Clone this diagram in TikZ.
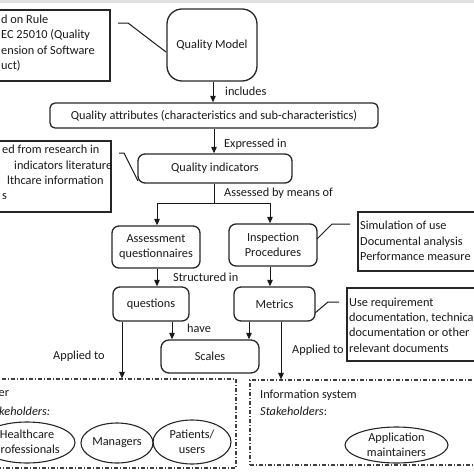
\documentclass[tikz,border=0pt]{standalone}
\usepackage{fontspec}
\setmainfont{Carlito}
\usetikzlibrary{arrows.meta,shapes.geometric}
\begin{document}
\begin{tikzpicture}[x=1pt,y=-1pt,
  every node/.style={font=\fontsize{12.3}{15.3}\selectfont, text=black!90},
  lbl/.style={inner sep=0, anchor=west},
  rbox/.style={draw=black!85, line width=1.3pt, rounded corners=#1, inner sep=0, align=center},
  rbox/.default=6pt,
  note/.style={draw=black!85, line width=1.3pt, inner sep=0},
  notetxt/.style={inner sep=0, anchor=west, align=left},
  arr/.style={-{Triangle[length=6.5pt,width=5.5pt]}, line width=1pt, black!90},
  ln/.style={line width=1pt, black!90},
  stake/.style={draw=black!75, line width=1.1pt, dash pattern=on 4pt off 2pt on 1pt off 2pt, inner sep=0},
  ell/.style={draw=black!85, ellipse, line width=1.1pt, inner sep=0, align=center}
]
\useasboundingbox (0,0) rectangle (474,474);
\clip (0,0) rectangle (474,474);
\fill[black!12] (0,0) rectangle (474,2.5);

% main boxes
\node[rbox=15pt, minimum width=90pt, minimum height=72pt] (qm) at (212,45) {Quality Model};
\node[rbox=5pt, minimum width=328pt, minimum height=25pt] (qa) at (214,115.5) {Quality attributes (characteristics and sub-characteristics)};
\node[rbox=7pt, minimum width=154pt, minimum height=29pt] (qi) at (215,168.5) {Quality indicators};
\node[rbox=7pt, minimum width=88pt, minimum height=42pt] (aq) at (156,247) {Assessment\\questionnaires};
\node[rbox=7pt, minimum width=88pt, minimum height=42pt] (ip) at (273,245) {Inspection\\Procedures};
\node[rbox=7pt, minimum width=76pt, minimum height=34pt] (qu) at (151,304) {questions};
\node[rbox=7pt, minimum width=81pt, minimum height=34pt] (me) at (274.5,304) {Metrics};
\node[rbox=8pt, minimum width=98pt, minimum height=33pt] (sc) at (210,356.5) {Scales};

% notes
\node[note, minimum width=170pt, minimum height=71pt] (n1) at (25,45.5) {};
\node[notetxt] (t1) at (1,43) {d on Rule\\EC 25010 (Quality\\ension of Software\\uct)};
\node[note, minimum width=171pt, minimum height=71pt] (n2) at (25.5,176.5) {};
\node[notetxt] (t2) at (2,172.5) {ed from research in\\\hspace*{12pt}indicators literature\\\hspace*{5pt}lthcare information\\s};
\node[note, minimum width=170pt, minimum height=59pt] (n3) at (443,241.5) {};
\node[notetxt] (t3) at (360,241) {Simulation of use\\Documental analysis\\Performance measure};
\node[note, minimum width=170pt, minimum height=73pt] (n4) at (432,324.5) {};
\node[notetxt] (t4) at (349,325) {Use requirement\\documentation, technica\\documentation or other\\relevant documents};

% callout lines
\coordinate (c1a) at (118,23); \coordinate (c1b) at (128,23); \coordinate (c1c) at (166,52);
\draw[ln] (c1a) -- (c1b) -- (c1c);
\coordinate (c2a) at (119,153); \coordinate (c2b) at (124,153); \coordinate (c2c) at (138,181);
\draw[ln] (c2a) -- (c2b) -- (c2c);
\coordinate (c3a) at (317,239); \coordinate (c3b) at (332,224); \coordinate (c3c) at (350,224);
\draw[ln] (c3a) -- (c3b) -- (c3c);
\coordinate (c4a) at (315,313); \coordinate (c4b) at (328,302); \coordinate (c4c) at (339,302);
\draw[ln] (c4a) -- (c4b) -- (c4c);

% stakeholder boxes
\node[stake, minimum width=266pt, minimum height=89pt] (ub) at (103,423.5) {};
\node[stake, minimum width=280pt, minimum height=85pt] (ib) at (390,422.5) {};
\node[lbl] (ut1) at (-1.5,394) {er};
\node[lbl] (ut2) at (-1,411) {\itshape keholders:};
\node[lbl] (it1) at (260,395) {Information system};
\node[lbl] (it2) at (260,411) {\textit{Stakeholders}:};
\node[ell, minimum width=96pt, minimum height=41pt] (hp) at (27,442.5) {Healthcare\\professionals};
\node[ell, minimum width=72pt, minimum height=40pt] (mg) at (117,443) {Managers};
\node[ell, minimum width=78pt, minimum height=44pt] (pu) at (192,442) {Patients/\\users};
\node[ell, minimum width=103pt, minimum height=36pt] (am) at (396.5,445) {Application\\maintainers};

% connectors
\coordinate (x1) at (213,0);
\draw[arr] (x1 |- qm.south) -- (x1 |- qa.north);
\node[lbl] (l1) at (225,91) {includes};
\coordinate (x2) at (214,0);
\draw[arr] (x2 |- qa.south) -- (x2 |- qi.north);
\node[lbl] (l2) at (224,144) {Expressed in};
\coordinate (br) at (214,203);
\coordinate (bl) at (157,203);
\coordinate (brr) at (270,203);
\draw[ln] (br |- qi.south) -- (br);
\draw[ln] (bl) -- (brr);
\draw[arr] (bl) -- (bl |- aq.north);
\draw[arr] (brr) -- (brr |- ip.north);
\node[lbl] (l3) at (224,193) {Assessed by means of};
\draw[arr] (bl |- aq.south) -- (bl |- qu.north);
\draw[arr] (brr |- ip.south) -- (brr |- me.north);
\node[lbl] (l4) at (173,277) {Structured in};
\coordinate (x3) at (172,0);
\coordinate (x4) at (249,0);
\draw[arr] (x3 |- qu.south) -- (x3 |- sc.north);
\draw[arr] (x4 |- me.south) -- (x4 |- sc.north);
\node[lbl] (l5) at (187,328) {have};
\coordinate (x5) at (122,0);
\coordinate (x6) at (281,0);
\draw[arr] (x5 |- qu.south) -- (x5 |- ub.north);
\draw[arr] (x6 |- me.south) -- (x6 |- ib.north);
\node[lbl] (l6) at (53,356) {Applied to};
\node[lbl] (l7) at (292,350) {Applied to};
\end{tikzpicture}
\end{document}
